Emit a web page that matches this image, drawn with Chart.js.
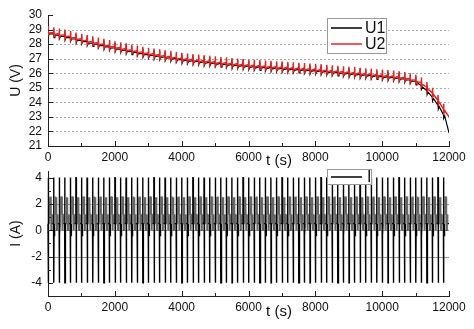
<!DOCTYPE html>
<html>
<head>
<meta charset="utf-8">
<script src="https://cdn.jsdelivr.net/npm/chart.js@4.4.0/dist/chart.umd.min.js"></script>
<style>
  html, body { margin: 0; padding: 0; background: #fff; width: 474px; height: 329px; overflow: hidden; }
  #top { position: absolute; left: 0; top: 0; }
  #bot { position: absolute; left: 0; top: 165px; }
</style>
</head>
<body>
<canvas id="top" width="474" height="168" style="width:474px;height:168px"></canvas>
<canvas id="bot" width="474" height="164" style="width:474px;height:164px"></canvas>
<script>
// axes
const xTicks = [0, 2000, 4000, 6000, 8000, 10000, 12000];
const xMinor = [1000, 3000, 5000, 7000, 9000, 11000];
const uTicks = [21, 22, 23, 24, 25, 26, 27, 28, 29, 30];
const uGrid = [22, 23, 24, 25, 26, 27, 28, 29];
const iTicks = [-4, -2, 0, 2, 4];
const iMinor = [-5, -3, -1, 1, 3];
const iGrid = [-2, 0, 2];

// 72 cycles over 12000 s, baseline voltage at start of each cycle (+ final value)
const cycles = 72;
const tEnd = 12000;
const u1Base = [
  28.85, 28.75, 28.68, 28.6, 28.5, 28.4, 28.32, 28.22, 28.14, 28.05, 27.96, 27.88,
  27.8, 27.72, 27.65, 27.57, 27.5, 27.42, 27.35, 27.3, 27.24, 27.18, 27.12, 27.06,
  27.0, 26.96, 26.92, 26.88, 26.84, 26.8, 26.76, 26.72, 26.69, 26.65, 26.62, 26.58,
  26.55, 26.52, 26.5, 26.47, 26.45, 26.42, 26.4, 26.37, 26.35, 26.32, 26.3, 26.27,
  26.25, 26.22, 26.18, 26.15, 26.12, 26.08, 26.05, 26.02, 25.98, 25.95, 25.92, 25.88,
  25.85, 25.82, 25.78, 25.74, 25.68, 25.6, 25.5, 25.2, 24.85, 24.4, 23.85, 23.2,
  21.9
];
const u2Base = [
  28.85, 28.75, 28.68, 28.6, 28.5, 28.4, 28.32, 28.22, 28.14, 28.05, 27.96, 27.88,
  27.8, 27.72, 27.65, 27.57, 27.5, 27.42, 27.35, 27.3, 27.24, 27.18, 27.12, 27.06,
  27.0, 26.96, 26.92, 26.88, 26.84, 26.8, 26.76, 26.72, 26.69, 26.65, 26.62, 26.58,
  26.55, 26.52, 26.5, 26.47, 26.45, 26.42, 26.4, 26.37, 26.35, 26.32, 26.3, 26.27,
  26.25, 26.22, 26.18, 26.15, 26.12, 26.08, 26.05, 26.02, 25.98, 25.95, 25.92, 25.88,
  25.85, 25.82, 25.78, 25.74, 25.68, 25.6, 25.5, 25.3, 25.0, 24.6, 24.1, 23.5,
  23.0
];
// shape of one voltage tooth (s from cycle start, V offset)
const toothT = [0, 4, 10, 14, 40];
const u1Tooth = [-0.05, 0.28, 0.05, -0.3, -0.15];
const u2Tooth = [0.05, 0.4, 0.15, -0.22, -0.08];
// one current cycle (s from cycle start, A)
const iCycleT = [0, 2, 6, 8, 12, 14, 24, 26, 40, 42, 56, 58, 72, 74, 90, 92, 110, 112, 126, 128, 166];
const iCycleI = [0.5, 4, 4, -4, -4, -0.4, -0.4, 0.5, 0.5, 2.5, 2.5, 1.2, 1.2, 2.5, 2.5, 0, 0, 1.2, 1.2, 0.5, 0.5];

const period = tEnd / cycles;

function buildU(base, tooth) {
  const pts = [];
  for (let k = 0; k < cycles; k++) {
    for (let j = 0; j < toothT.length; j++) {
      pts.push({ x: k * period + toothT[j], y: base[k] + tooth[j] });
    }
  }
  pts.push({ x: tEnd, y: base[cycles] });
  return pts;
}

function buildI() {
  const pts = [];
  for (let k = 0; k < cycles; k++) {
    for (let j = 0; j < iCycleT.length; j++) {
      pts.push({ x: k * period + iCycleT[j], y: iCycleI[j] });
    }
  }
  return pts;
}

const font = "'Liberation Sans', Arial, sans-serif";

// inward ticks, dotted/solid grid, legend box and "t (s)" label
function decorPlugin(cfg) {
  return {
    id: "decor",
    beforeDatasetsDraw(chart) {
      const { ctx, chartArea: a } = chart;
      const y = chart.scales.y;
      ctx.save();
      ctx.strokeStyle = cfg.gridColor;
      ctx.lineWidth = 1;
      ctx.setLineDash(cfg.gridDash);
      cfg.grid.forEach(v => {
        const py = Math.round(y.getPixelForValue(v)) + 0.5;
        ctx.beginPath(); ctx.moveTo(a.left, py); ctx.lineTo(a.right, py); ctx.stroke();
      });
      ctx.restore();
    },
    afterDraw(chart) {
      const { ctx, chartArea: a } = chart;
      const x = chart.scales.x, y = chart.scales.y;
      ctx.save();
      ctx.strokeStyle = "#222";
      ctx.lineWidth = 1;
      const tick = (px, py, dx, dy) => { ctx.beginPath(); ctx.moveTo(px, py); ctx.lineTo(px + dx, py + dy); ctx.stroke(); };
      xTicks.forEach(v => tick(Math.round(x.getPixelForValue(v)) + 0.5, a.bottom, 0, -5));
      xMinor.forEach(v => tick(Math.round(x.getPixelForValue(v)) + 0.5, a.bottom, 0, -3));
      cfg.yTicks.forEach(v => tick(a.left, Math.round(y.getPixelForValue(v)) + 0.5, 5, 0));
      cfg.yMinor.forEach(v => tick(a.left, Math.round(y.getPixelForValue(v)) + 0.5, 3, 0));

      // axis label t (s)
      ctx.fillStyle = "#111";
      ctx.font = "15px " + font;
      ctx.textAlign = "center";
      ctx.textBaseline = "middle";
      ctx.fillText("t (s)", 279, a.bottom + cfg.tLabelDy);

      // legend
      const L = cfg.legend;
      ctx.fillStyle = "#fff";
      ctx.fillRect(L.x, L.y, L.w, L.h);
      ctx.strokeStyle = "#999";
      ctx.strokeRect(L.x + 0.5, L.y + 0.5, L.w, L.h);
      ctx.font = "16px " + font;
      ctx.textAlign = "left";
      chart.data.datasets.forEach((ds, i) => {
        const ly = L.y + L.rowY[i];
        ctx.strokeStyle = ds.borderColor;
        ctx.lineWidth = 1.5;
        ctx.beginPath(); ctx.moveTo(L.x + 4, ly); ctx.lineTo(L.x + 35, ly); ctx.stroke();
        ctx.fillStyle = "#111";
        ctx.fillText(ds.label, L.x + L.textDx, ly + 1);
      });
      ctx.restore();
    }
  };
}

function xScale(height) {
  return {
    type: "linear", min: 0, max: tEnd,
    afterFit: s => { s.height = height; s.paddingLeft = 0; s.paddingRight = 0; },
    afterBuildTicks: s => { s.ticks = xTicks.map(v => ({ value: v })); },
    grid: { display: false, drawTicks: false },
    border: { display: true, color: "#222", width: 1 },
    ticks: { color: "#111", font: { family: font, size: 12 }, padding: 4, maxRotation: 0, autoSkip: false, callback: v => String(v) }
  };
}

function yScale(min, max, ticks, title) {
  return {
    type: "linear", min: min, max: max,
    afterFit: s => { s.width = 48; s.paddingTop = 0; s.paddingBottom = 0; },
    afterBuildTicks: s => { s.ticks = ticks.map(v => ({ value: v })); },
    grid: { display: false, drawTicks: false },
    border: { display: true, color: "#222", width: 1 },
    ticks: { color: "#111", font: { family: font, size: 12 }, padding: 6, autoSkip: false, callback: v => String(v) },
    title: { display: true, text: title, color: "#111", font: { family: font, size: 14 }, padding: { top: 8, bottom: 0 } }
  };
}

new Chart(document.getElementById("top").getContext("2d"), {
  type: "line",
  data: {
    datasets: [
      { label: "U1", data: buildU(u1Base, u1Tooth), borderColor: "#000000", borderWidth: 1.2, pointRadius: 0, order: 1 },
      { label: "U2", data: buildU(u2Base, u2Tooth), borderColor: "#ee2222", borderWidth: 1.5, pointRadius: 0, order: 0 }
    ]
  },
  options: {
    responsive: false,
    animation: false,
    parsing: false,
    layout: { padding: { top: 15, right: 25, left: 0, bottom: 0 } },
    scales: { x: xScale(22), y: yScale(21, 30, uTicks, "U (V)") },
    plugins: { legend: { display: false }, tooltip: { enabled: false } }
  },
  plugins: [decorPlugin({
    grid: uGrid, gridColor: "#aaaaaa", gridDash: [2, 2],
    yTicks: uTicks, yMinor: [], tLabelDy: 15,
    legend: { x: 327, y: 18, w: 59, h: 35, rowY: [10, 26], textDx: 38 }
  })]
});

new Chart(document.getElementById("bot").getContext("2d"), {
  type: "line",
  data: {
    datasets: [
      {
        label: "I", data: buildI(), borderColor: "#000000", borderWidth: 1.4, pointRadius: 0, clip: false,
        segment: {
          borderColor: c => {
            const a = c.p0.parsed.y, b = c.p1.parsed.y;
            if (a === 1.2 && b === 1.2) return "#222222";
            if (Math.min(a, b) >= -0.5 && Math.max(a, b) <= 2.6 && Math.max(a, b) > 0.5) return "#666666";
            return undefined;
          }
        }
      }
    ]
  },
  options: {
    responsive: false,
    animation: false,
    parsing: false,
    layout: { padding: { top: 6, right: 25, left: 0, bottom: 0 } },
    scales: { x: xScale(33), y: yScale(-5, 4.5, iTicks, "I (A)") },
    plugins: { legend: { display: false }, tooltip: { enabled: false } }
  },
  plugins: [decorPlugin({
    grid: iGrid, gridColor: "#999999", gridDash: [],
    yTicks: iTicks, yMinor: iMinor, tLabelDy: 16,
    legend: { x: 327, y: 4, w: 44, h: 15, rowY: [8], textDx: 40 }
  })]
});
</script>
</body>
</html>
